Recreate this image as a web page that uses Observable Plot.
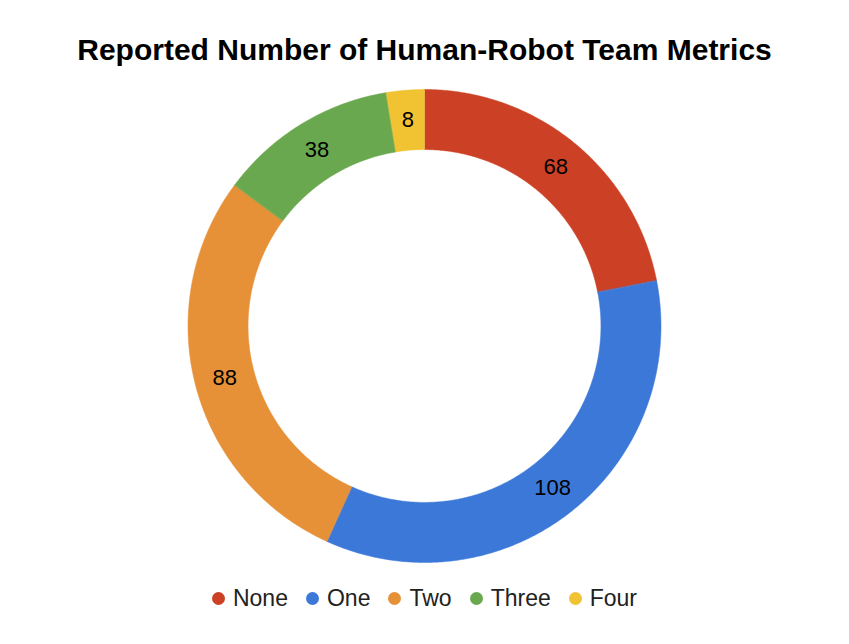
<!DOCTYPE html>
<html>
<head>
<meta charset="utf-8">
<script src="https://cdn.jsdelivr.net/npm/d3@7"></script>
<script src="https://cdn.jsdelivr.net/npm/@observablehq/plot@0.6"></script>
<style>
  html, body { margin: 0; padding: 0; background: #fff; }
  body { width: 849px; height: 644px; overflow: hidden; font-family: "Liberation Sans", Arial, sans-serif; }
  #title { height: 45px; padding-top: 35px; line-height: 30px; font-size: 30px; font-weight: bold; text-align: center; color: #000; box-sizing: content-box; }
  #chart svg { display: block; }
  #legend { margin-top: 17px; display: flex; justify-content: center; align-items: center; font-size: 23px; line-height: 23px; color: #222; }
  .item { display: flex; align-items: center; margin: 0 9px; }
  .dot { width: 13px; height: 13px; border-radius: 50%; margin-right: 8px; }
</style>
</head>
<body>
<div id="title">Reported Number of Human-Robot Team Metrics</div>
<div id="chart"></div>
<div id="legend"></div>
<script>
const categories = ["None", "One", "Two", "Three", "Four"];
const counts = [68, 108, 88, 38, 8];
const colors = ["#cc4125", "#3c78d8", "#e69138", "#6aa84f", "#f1c232"];

const innerRatio = 0.746;
const total = d3.sum(counts);

// slice angles (clockwise from 12 o'clock)
const pie = d3.pie().sort(null).value(d => d.value)(categories.map((c, i) => ({key: c, value: counts[i]})));

// outline polygons for each ring slice
const outline = [];
for (const s of pie) {
  const a0 = s.startAngle, a1 = s.endAngle;
  const n = Math.max(2, Math.ceil((a1 - a0) / (Math.PI / 360)));
  for (let j = 0; j <= n; j++) {
    const a = a0 + (a1 - a0) * j / n;
    outline.push({key: s.data.key, x: Math.sin(a), y: Math.cos(a)});
  }
  for (let j = n; j >= 0; j--) {
    const a = a0 + (a1 - a0) * j / n;
    outline.push({key: s.data.key, x: innerRatio * Math.sin(a), y: innerRatio * Math.cos(a)});
  }
}

const rm = (1 + innerRatio) / 2;
const labels = pie.map(s => {
  const m = (s.startAngle + s.endAngle) / 2;
  return {key: s.data.key, value: s.data.value, x: rm * Math.sin(m), y: rm * Math.cos(m)};
});

const cx = 424, cy = 245.5, R = 236.5;
const chart = Plot.plot({
  width: 849,
  height: 490,
  margin: 0,
  x: {domain: [-1, 1], range: [cx - R, cx + R], axis: null},
  y: {domain: [-1, 1], range: [cy + R, cy - R], axis: null},
  color: {domain: categories, range: colors},
  marks: [
    Plot.line(outline, {x: "x", y: "y", z: "key", fill: "key", stroke: "key", strokeWidth: 0.5, curve: "linear-closed"}),
    Plot.text(labels, {x: "x", y: "y", text: d => String(d.value), fill: "#000", fontSize: 22, fontFamily: "Liberation Sans, Arial, sans-serif"})
  ],
  style: {background: "#fff", fontFamily: "Liberation Sans, Arial, sans-serif"}
});
document.getElementById("chart").appendChild(chart);

const legend = document.getElementById("legend");
categories.forEach((c, i) => {
  const item = document.createElement("div");
  item.className = "item";
  const dot = document.createElement("span");
  dot.className = "dot";
  dot.style.background = colors[i];
  const t = document.createElement("span");
  t.textContent = c;
  item.appendChild(dot);
  item.appendChild(t);
  legend.appendChild(item);
});
</script>
</body>
</html>
